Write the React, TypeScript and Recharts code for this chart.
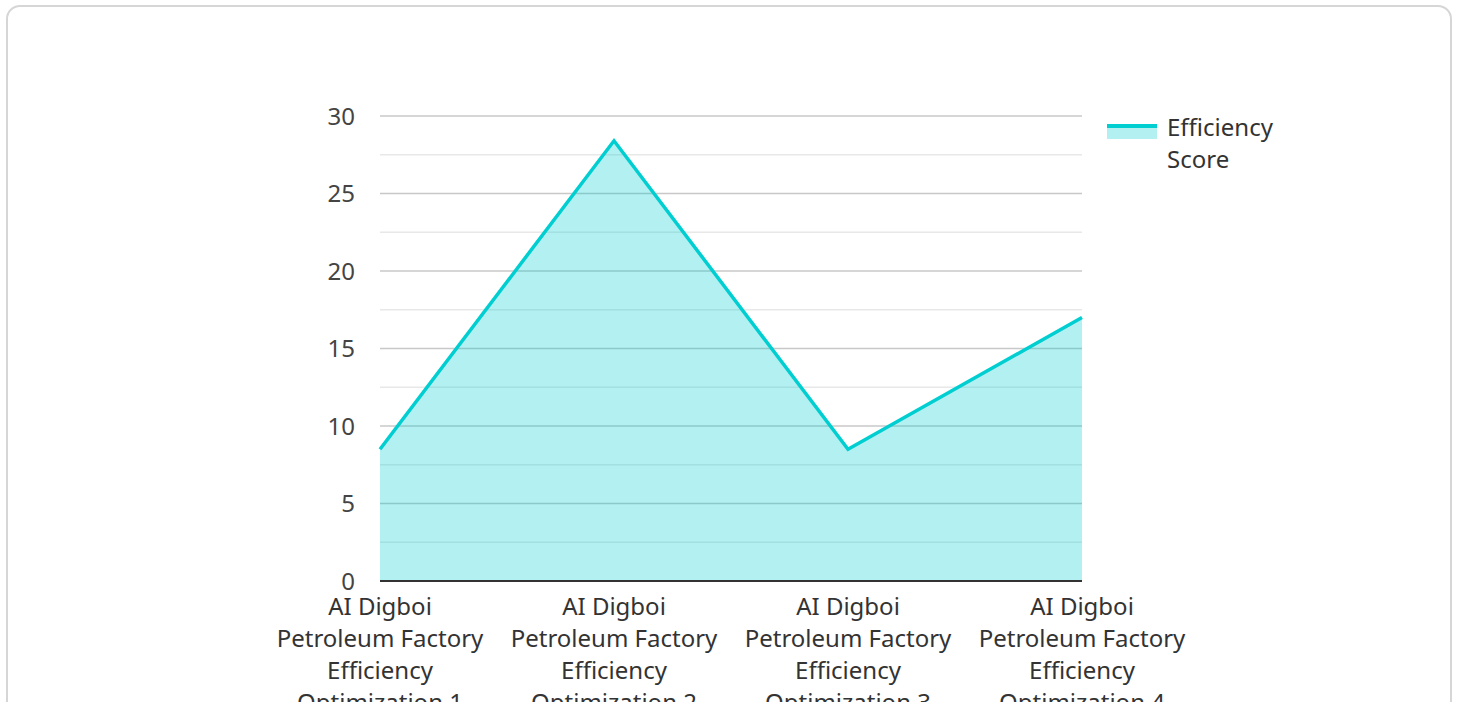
import { Area, AreaChart, CartesianGrid, Legend, XAxis, YAxis } from "recharts";

// Four factory runs, one efficiency score each.
const categories = [
  "AI Digboi Petroleum Factory Efficiency Optimization 1",
  "AI Digboi Petroleum Factory Efficiency Optimization 2",
  "AI Digboi Petroleum Factory Efficiency Optimization 3",
  "AI Digboi Petroleum Factory Efficiency Optimization 4",
];
const efficiencyScores = [8.5, 28.4, 8.5, 17];
const seriesName = "Efficiency Score";

// Major ticks every 5 carry a label; the half steps are only faint grid lines.
const yTicks = [0, 2.5, 5, 7.5, 10, 12.5, 15, 17.5, 20, 22.5, 25, 27.5, 30];

const data = categories.map((name, i) => ({ name, score: efficiencyScores[i] }));

const FONT = "'Noto Sans', sans-serif";
const FONT_SIZE = 24;
const TEAL = "#00CED1";
const TEXT = "#444444";
const LABEL_WIDTH = 220;

let ctx: CanvasRenderingContext2D | null = null;
function wrap(label: string, maxWidth: number): string[] {
  if (!ctx) ctx = document.createElement("canvas").getContext("2d");
  if (ctx) ctx.font = `${FONT_SIZE}px ${FONT}`;
  const lines: string[] = [];
  let cur = "";
  for (const word of label.split(" ")) {
    const next = cur ? `${cur} ${word}` : word;
    const w = ctx ? ctx.measureText(next).width : next.length * 12;
    if (cur && w > maxWidth) {
      lines.push(cur);
      cur = word;
    } else {
      cur = next;
    }
  }
  if (cur) lines.push(cur);
  return lines;
}

function YTick(props: any) {
  const { x, y, payload } = props;
  if (payload.value % 5 !== 0) return null;
  return (
    <text x={x} y={y} dy="0.355em" textAnchor="end" fontFamily={FONT} fontSize={FONT_SIZE} fill={TEXT}>
      {payload.value}
    </text>
  );
}

function XTick(props: any) {
  const { x, y, payload } = props;
  const lines = wrap(String(payload.value), LABEL_WIDTH);
  return (
    <text x={x} y={y + 34} textAnchor="middle" fontFamily={FONT} fontSize={FONT_SIZE} fill="#333333">
      {lines.map((line, i) => (
        <tspan key={i} x={x} dy={i === 0 ? 0 : 32}>
          {line}
        </tspan>
      ))}
    </text>
  );
}

function GridLine(props: any) {
  const { x1, y1, x2, y2, index } = props;
  const major = index % 2 === 0;
  return (
    <line
      x1={x1}
      y1={y1}
      x2={x2}
      y2={y2}
      stroke={major ? "#c8c8c8" : "#e8e8e8"}
      strokeWidth={1.5}
    />
  );
}

function LegendBox({ payload }: any) {
  return (
    <div style={{ fontFamily: FONT, fontSize: FONT_SIZE, color: "#333333" }}>
      {(payload ?? []).map((p: any) => (
        <div key={p.value} style={{ display: "flex", alignItems: "flex-start" }}>
          <div style={{ width: 50, height: 15, marginTop: 13, marginRight: 10, position: "relative" }}>
            <div style={{ position: "absolute", inset: 0, background: TEAL, opacity: 0.3 }} />
            <div style={{ position: "absolute", left: 0, right: 0, top: 0, height: 4, background: TEAL }} />
          </div>
          <div style={{ width: 120, lineHeight: "32px" }}>{p.value}</div>
        </div>
      ))}
    </div>
  );
}

export default function App() {
  return (
    <div style={{ position: "absolute", left: 0, top: 0, width: 1458, height: 702, overflow: "hidden", background: "#fff" }}>
      <div
        style={{
          position: "absolute",
          left: 6,
          top: 5,
          width: 1446,
          height: 760,
          border: "2px solid #d6d6d6",
          borderRadius: 14,
          boxSizing: "border-box",
        }}
      />
      <div style={{ position: "absolute", left: 0, top: 0 }}>
        <AreaChart
          width={1458}
          height={760}
          data={data}
          margin={{ top: 116, right: 176, bottom: 39, left: 320 }}
        >
          <CartesianGrid vertical={false} horizontal={GridLine} />
          <XAxis
            dataKey="name"
            interval={0}
            height={140}
            tickSize={0}
            tickMargin={0}
            tick={XTick}
            axisLine={{ stroke: "#333333", strokeWidth: 2 }}
            tickLine={false}
          />
          <YAxis
            width={60}
            domain={[0, 30]}
            ticks={yTicks}
            interval={0}
            tickSize={0}
            tickMargin={25}
            tick={YTick}
            axisLine={false}
            tickLine={false}
          />
          <Legend
            layout="vertical"
            verticalAlign="top"
            align="right"
            content={LegendBox}
            wrapperStyle={{ left: 1107, top: 111, width: 200 }}
          />
          <Area
            type="linear"
            dataKey="score"
            name={seriesName}
            stroke={TEAL}
            strokeWidth={3.5}
            fill={TEAL}
            fillOpacity={0.3}
            dot={false}
            activeDot={false}
            isAnimationActive={false}
          />
        </AreaChart>
      </div>
    </div>
  );
}
